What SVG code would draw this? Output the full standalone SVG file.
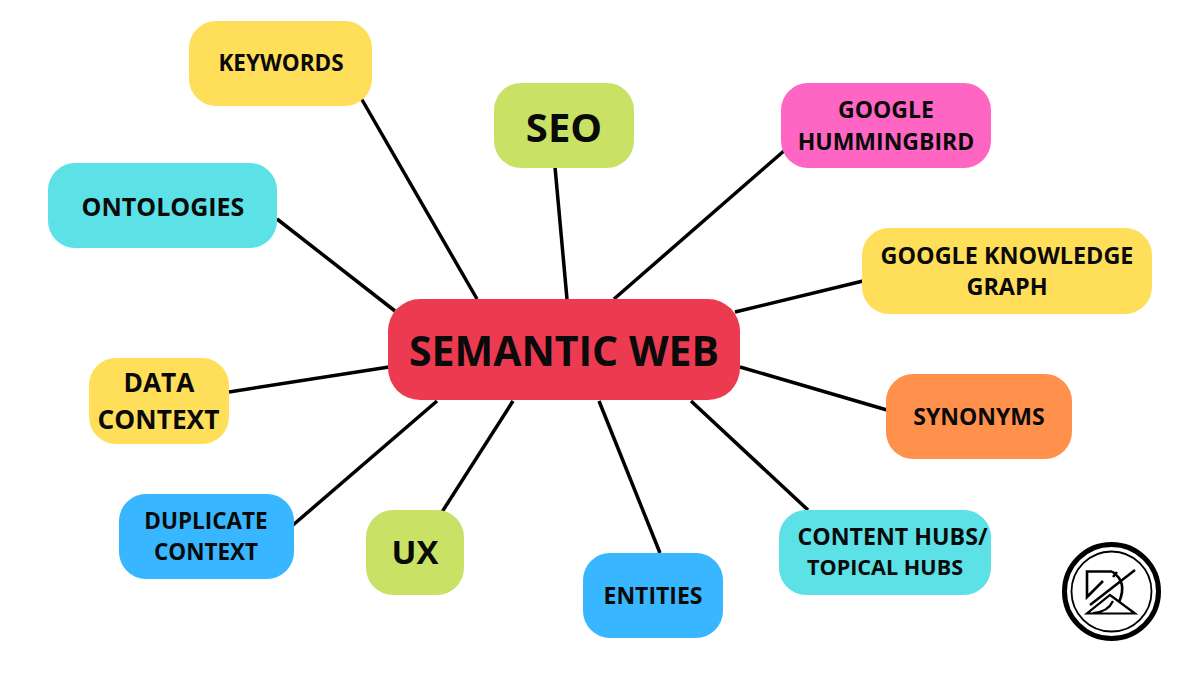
<svg xmlns="http://www.w3.org/2000/svg" width="1200" height="675" viewBox="0 0 1200 675">
<style>
text{font-family:"Open Sans","Noto Sans","DejaVu Sans",sans-serif;font-weight:700;fill:#0a0a0a;text-anchor:middle}
.s{font-size:23px}
.k{font-size:22.5px}
.m{font-size:25px}
.d{font-size:26.3px}
.c line{stroke:#000;stroke-width:3.5;stroke-linecap:butt}
.y{fill:#ffde59}.t{fill:#5ce1e6}.b{fill:#38b6ff}.g{fill:#c9e265}.p{fill:#ff66c4}.o{fill:#ff914d}.r{fill:#ec3b50}
</style>
<rect width="1200" height="675" fill="#fff"/>
<g id="connectors" class="c">
<line x1="361" y1="98" x2="477" y2="299"/>
<line x1="555" y1="167" x2="567" y2="299"/>
<line x1="785" y1="150" x2="614" y2="299"/>
<line x1="863" y1="281" x2="735" y2="312"/>
<line x1="887" y1="410" x2="740" y2="367"/>
<line x1="808" y1="510" x2="691" y2="401"/>
<line x1="660" y1="553" x2="599" y2="401"/>
<line x1="442" y1="512" x2="513" y2="401"/>
<line x1="293" y1="525" x2="437" y2="401"/>
<line x1="229" y1="392" x2="389" y2="367"/>
<line x1="277" y1="219" x2="395" y2="311"/>
</g>
<g id="keywords"><rect class="y" x="189" y="21" width="183" height="85" rx="27"/><text class="k" x="281" y="71">KEYWORDS</text></g>
<g id="seo"><rect class="g" x="494" y="83" width="140" height="85" rx="27"/><text x="564" y="142" font-size="40">SEO</text></g>
<g id="hummingbird"><rect class="p" x="781" y="83" width="210" height="85" rx="27"/><text class="s" x="886" y="118">GOOGLE</text><text class="s" x="886" y="150">HUMMINGBIRD</text></g>
<g id="ontologies"><rect class="t" x="48" y="163" width="229" height="85" rx="27"/><text class="m" x="163" y="216">ONTOLOGIES</text></g>
<g id="knowledge-graph"><rect class="y" x="862" y="228" width="290" height="86" rx="27"/><text font-size="23.4" x="1007" y="264">GOOGLE KNOWLEDGE</text><text font-size="23.4" x="1007" y="295">GRAPH</text></g>
<g id="semantic-web"><rect class="r" x="388" y="299" width="352" height="101" rx="32"/><text x="564" y="366" font-size="41">SEMANTIC WEB</text></g>
<g id="data-context"><rect class="y" x="89" y="358" width="140" height="86" rx="27"/><text class="d" x="159" y="392">DATA</text><text class="d" x="158.500" y="429">CONTEXT</text></g>
<g id="synonyms"><rect class="o" x="886" y="374" width="186" height="85" rx="27"/><text class="s" x="979" y="425">SYNONYMS</text></g>
<g id="duplicate-context"><rect class="b" x="119" y="494" width="175" height="85" rx="27"/><text class="k" x="206" y="529">DUPLICATE</text><text class="k" x="206" y="560">CONTEXT</text></g>
<g id="ux"><rect class="g" x="366" y="510" width="98" height="85" rx="27"/><text x="415" y="564" font-size="33">UX</text></g>
<g id="content-hubs"><rect class="t" x="779" y="510" width="212" height="85" rx="27"/><text font-size="23.200" x="892.500" y="545">CONTENT HUBS/</text><text font-size="21.600" x="885" y="575">TOPICAL HUBS</text></g>
<g id="entities"><rect class="b" x="583" y="553" width="140" height="85" rx="27"/><text class="s" x="653" y="604">ENTITIES</text></g>
<g id="logo" fill="none" stroke="#000">
<circle cx="1111.500" cy="591.500" r="47" stroke-width="5"/>
<circle cx="1111.500" cy="591.500" r="40" stroke-width="1.800"/>
<path d="M1112 571.500H1087V597L1103 581" stroke-width="2.600"/>
<path d="M1090 605L1135 570M1117 572L1113 577M1112 571.500Q1128 582 1119 602" stroke-width="2.600"/>
<path d="M1087 613.500H1135L1110 595L1087 613.500ZM1093 613Q1108 612 1113 601" stroke-width="2.200"/>
</g>
</svg>
